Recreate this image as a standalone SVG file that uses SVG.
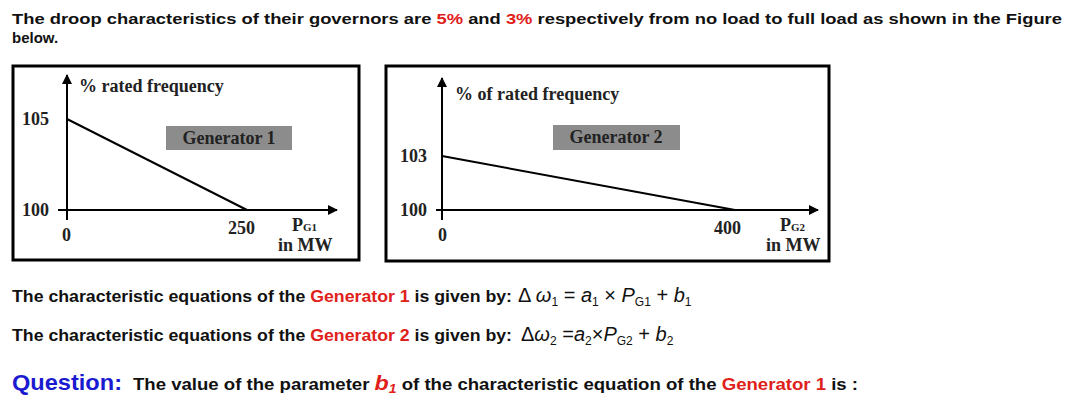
<svg xmlns="http://www.w3.org/2000/svg" width="1089" height="401" viewBox="0 0 1089 401">
<style>
.t{font-family:"Liberation Sans",Arial,sans-serif;font-weight:bold;font-size:15px;fill:#111}
.s{font-family:"Liberation Serif","Times New Roman",serif;font-weight:bold;font-size:18px;fill:#222}
.r{fill:#e0201a}
.i{font-style:italic}
.ax{stroke:#000;stroke-width:2;fill:none}
.frame{stroke:#000;stroke-width:3;fill:#fff}
.gb{fill:#8c8c8c}
.sub{font-size:12px}
</style>
<defs><marker id="ah" viewBox="0 0 10 10" refX="9" refY="5" markerWidth="5" markerHeight="5" orient="auto"><path d="M0,0L10,5L0,10z" fill="#000"/></marker></defs>
<rect width="1089" height="401" fill="#fff"/>
<text class="t" x="12" y="24" textLength="1050" lengthAdjust="spacingAndGlyphs">The droop characteristics of their governors are <tspan class="r">5%</tspan> and <tspan class="r">3%</tspan> respectively from no load to full load as shown in the Figure</text>
<text class="t" x="12" y="43">below.</text>
<g id="panel1">
<rect class="frame" x="13" y="66" width="346" height="194"/>
<text class="s" x="79" y="92">% rated frequency</text>
<rect class="gb" x="166" y="126" width="126" height="24"/>
<text class="s" x="229" y="144" text-anchor="middle">Generator 1</text>
<text class="s" x="22" y="125">105</text>
<text class="s" x="22" y="216">100</text>
<text class="s" x="62" y="241">0</text>
<text class="s" x="228" y="234">250</text>
<text class="s" x="292" y="231">P<tspan style="font-size:11px">G1</tspan></text>
<text class="s" x="278" y="251">in MW</text>
</g>
<g id="panel2">
<rect class="frame" x="386" y="66" width="443" height="195"/>
<text class="s" x="455" y="100">% of rated frequency</text>
<rect class="gb" x="553" y="125" width="127" height="25"/>
<text class="s" x="616" y="143" text-anchor="middle">Generator 2</text>
<text class="s" x="400" y="162">103</text>
<text class="s" x="400" y="216">100</text>
<text class="s" x="438" y="241">0</text>
<text class="s" x="714" y="234">400</text>
<text class="s" x="780" y="231">P<tspan style="font-size:11px">G2</tspan></text>
<text class="s" x="766" y="251">in MW</text>
</g>
<g id="connectors">
<line class="ax" x1="67" y1="220" x2="67" y2="75" marker-end="url(#ah)"/>
<line class="ax" x1="58" y1="210" x2="337" y2="210" marker-end="url(#ah)"/>
<line class="ax" x1="67" y1="119" x2="247" y2="210"/>
<line class="ax" x1="442" y1="220" x2="442" y2="78" marker-end="url(#ah)"/>
<line class="ax" x1="436" y1="210" x2="818" y2="210" marker-end="url(#ah)"/>
<line class="ax" x1="442" y1="156" x2="735" y2="210"/>
</g>
<text class="t" x="12" y="302" style="font-size:16px" textLength="500" lengthAdjust="spacingAndGlyphs">The characteristic equations of the <tspan class="r">Generator 1</tspan> is given by:</text>
<text class="t" x="518" y="302" style="font-size:20px;font-weight:normal">Δ <tspan class="i">ω</tspan><tspan class="sub" dy="4">1</tspan><tspan dy="-4"> = </tspan><tspan class="i">a</tspan><tspan class="sub" dy="4">1</tspan><tspan dy="-4"> × </tspan><tspan class="i">P</tspan><tspan class="sub" dy="4">G1</tspan><tspan dy="-4">   +  </tspan><tspan class="i">b</tspan><tspan class="sub" dy="4">1</tspan></text>
<text class="t" x="12" y="341" style="font-size:16px" textLength="500" lengthAdjust="spacingAndGlyphs">The characteristic equations of the <tspan class="r">Generator 2</tspan> is given by:</text>
<text class="t" x="521" y="341" style="font-size:20px;font-weight:normal">Δ<tspan class="i">ω</tspan><tspan class="sub" dy="4">2</tspan><tspan dy="-4"> =</tspan><tspan class="i">a</tspan><tspan class="sub" dy="4">2</tspan><tspan dy="-4">×</tspan><tspan class="i">P</tspan><tspan class="sub" dy="4">G2</tspan><tspan dy="-4">  +  </tspan><tspan class="i">b</tspan><tspan class="sub" dy="4">2</tspan></text>
<text class="t" x="12" y="390" style="font-size:22px;fill:#1a1ad0" textLength="110" lengthAdjust="spacingAndGlyphs">Question:</text>
<text class="t" x="133" y="390" style="font-size:16px" textLength="725" lengthAdjust="spacingAndGlyphs">The value of the parameter <tspan class="r i" style="font-size:20px">b<tspan class="sub" dy="3">1</tspan></tspan><tspan dy="-3"> of the characteristic equation of the </tspan><tspan class="r">Generator 1</tspan>  is :</text>
</svg>
